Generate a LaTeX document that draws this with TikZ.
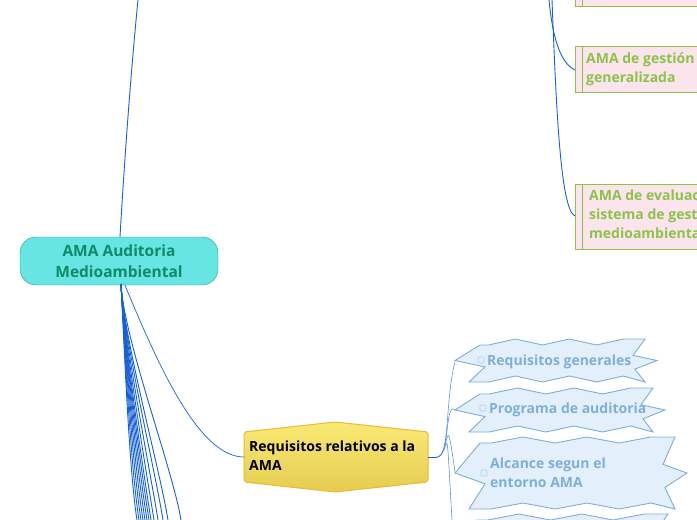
\documentclass[tikz,border=0pt]{standalone}
\usepackage{fontspec}
\setmainfont{Open Sans}
\definecolor{conn}{HTML}{1560D8}
\definecolor{rootfill}{HTML}{66E5E2}
\definecolor{rootdraw}{HTML}{2A9A8A}
\definecolor{roottext}{HTML}{108A68}
\definecolor{pinkfill}{HTML}{FCE4EC}
\definecolor{greenc}{HTML}{8BC34A}
\definecolor{jagfill}{HTML}{E3F0FC}
\definecolor{jagdraw}{HTML}{7AAEDC}
\definecolor{jagtext}{HTML}{7FAEDB}
\definecolor{ytop}{HTML}{F9E975}
\definecolor{ybot}{HTML}{E6CC50}
\definecolor{ydraw}{HTML}{EDB92E}
\tikzset{
  conline/.style={draw=conn,line width=0.9pt},
  thinline/.style={draw=conn!70,line width=0.6pt},
  txt/.style={font=\fontsize{14}{19}\selectfont\bfseries,align=left,inner sep=0pt,anchor=north west},
  pinktxt/.style={txt,text=greenc},
  jagtxt/.style={txt,text=jagtext},
  jag/.style={fill=jagfill,draw=jagdraw,line width=0.9pt},
}
\newcommand{\jagshape}[4]{%
  \pgfmathsetmacro{\ym}{(#2+#4)/2}%
  \pgfmathsetmacro{\stp}{(#3-#1-40)/6}%
  \path[jag] (#1,\ym) -- (#1+25,#2+6)
    \foreach \i in {1,...,6}{ -- ({#1+20+\i*\stp-\stp/2},{#2+mod(\i,2)*6}) }
    -- (#3-12,#2) -- (#3-24,{\ym-(#4-#2)*0.12}) -- (#3,\ym) -- (#3-22,{\ym+(#4-#2)*0.2}) -- (#3-12,#4)
    \foreach \i in {6,...,1}{ -- ({#1+20+\i*\stp-\stp/2},{#4-mod(\i+1,2)*6}) }
    -- (#1+14,#4) -- (#1+30,{\ym+(#4-#2)*0.15}) -- cycle;}
\begin{document}
\begin{tikzpicture}[x=1pt,y=-1pt]
\useasboundingbox (0,0) rectangle (697,520);
\coordinate (topA) at (138,0);
\coordinate (topB) at (549,0);
\coordinate (topC) at (552,0);
\foreach \a/\b in {-40/6,46/92,184/249}{
  \path[fill=pinkfill,draw=greenc,line width=1pt] (575,\a) rectangle (700,\b);
  \draw[greenc,line width=1pt] (582,\a) -- (582,\b);
}
\node[pinktxt] (p1) at (586,53) {AMA de gestión\\generalizada};
\node[pinktxt] (p2) at (589,190) {AMA de evaluación\\sistema de gestión\\medioambiental};
\coordinate (p1w) at (575,70);
\coordinate (p2w) at (575,216);
\node[draw=rootdraw,fill=rootfill,rounded corners=16pt,minimum width=198pt,minimum height=48pt,
  font=\fontsize{15.5}{21}\selectfont\bfseries,text=roottext,align=center,inner sep=0pt] (root) at (119,261) {AMA Auditoria\\Medioambiental};
\draw[conline] ([xshift=1pt]root.north) .. controls (125,150) and (132,60) .. (topA);
\draw[conline] (topB) .. controls (552,30) and (558,62) .. (p1w);
\draw[conline] (topC) .. controls (556,100) and (560,210) .. (p2w);
\path[top color=ytop,bottom color=ybot,draw=ydraw,line width=1pt,rounded corners=2pt]
  (244,432) -- (335,422) -- (428,432) -- (428,482) -- (335,492) -- (244,482) -- cycle;
\node[txt,text=black] (req) at (249,441) {Requisitos relativos a la\\AMA};
\coordinate (reqw) at (244,457);
\coordinate (reqe) at (428,457);
\draw[conline,line width=0.7pt] ([xshift=6pt]root.south) .. controls (160,370) and (200,457) .. (reqw);
\foreach \x in {137,139,141,143,145,147,149,151,154,158,163,168,181}{
  \draw[conline] (121,284) .. controls (124,340) and ({\x-8},470) .. (\x,520);
}
\jagshape{455}{339}{657}{382}
\jagshape{455}{388}{665}{432}
\jagshape{455}{437}{687}{509}
\jagshape{452}{514}{680}{560}
\node[jagtxt] (j1) at (487,355) {Requisitos generales};
\node[jagtxt] (j2) at (489,403) {Programa de auditoria};
\node[jagtxt] (j3) at (490,458) {Alcance segun el\\entorno AMA};
\foreach \xx/\yy in {481/360,483/408,484/473}{
  \draw[jagdraw!60,line width=0.7pt,rounded corners=1pt] (\xx-3,\yy-3) rectangle (\xx+3,\yy+3);
}
\coordinate (j1w) at (455,362);
\coordinate (j2w) at (455,410);
\coordinate (j3w) at (455,472);
\coordinate (j4w) at (452,520);
\draw[conline] (reqe) -- (437,457);
\foreach \t in {j1w,j2w,j3w,j4w}{
  \draw[thinline] (437,457) .. controls (450,457) and (445,400) .. (\t);
}
\end{tikzpicture}
\end{document}
